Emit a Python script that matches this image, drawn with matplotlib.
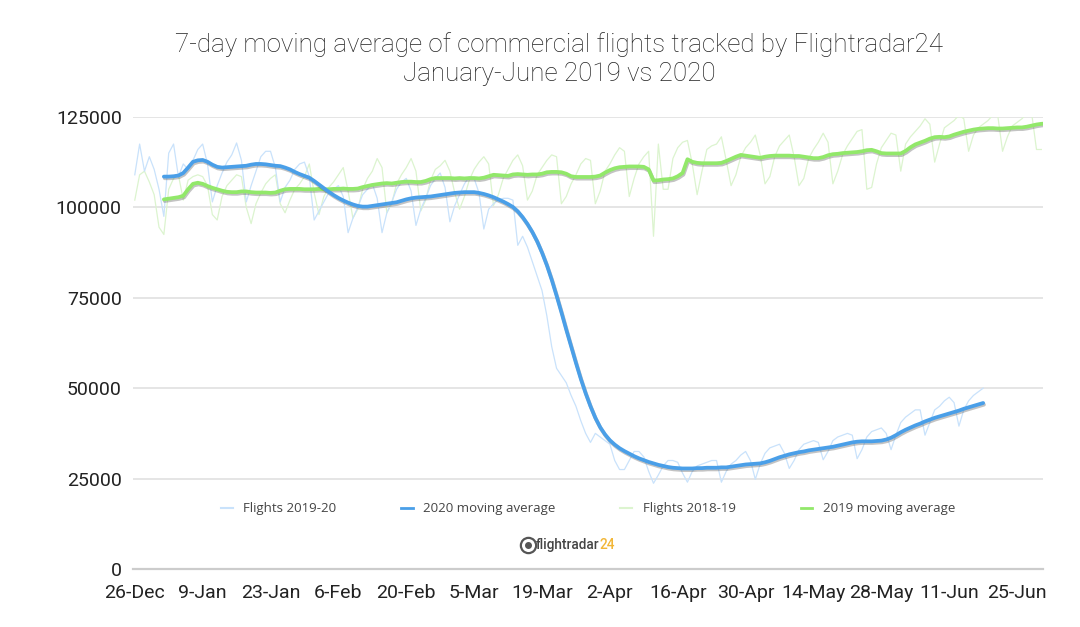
import numpy as np
import matplotlib
matplotlib.use("Agg")
import matplotlib.pyplot as plt
import matplotlib.patheffects as pe
from matplotlib.lines import Line2D

# daily values in thousands of flights, day 0 = 26-Dec
flights_2019_20 = [
    109.0, 117.5, 110.0, 114.0, 110.5, 105.0, 97.5, 115.0, 117.5, 108.5,
    112.0, 110.5, 113.0, 116.0, 117.5, 112.0, 101.5, 106.0, 109.5, 112.5,
    114.5, 117.8, 113.0, 101.5, 106.0, 110.0, 114.0, 115.5, 115.5, 111.0,
    101.5, 105.5, 107.5, 110.5, 112.0, 112.5, 108.5, 96.5, 99.0, 101.5,
    104.0, 105.0, 106.0, 103.0, 93.0, 97.0, 100.0, 103.5, 105.0, 106.5,
    102.5, 93.0, 98.5, 101.5, 105.0, 107.0, 108.0, 104.5, 95.0, 99.5,
    102.5, 106.0, 108.0, 109.5, 105.5, 96.0, 100.5, 103.5, 106.5, 108.5,
    108.0, 104.0, 94.0, 99.5, 101.0, 102.0, 102.5, 102.5, 102.0, 89.5,
    92.0, 89.0, 85.0, 81.0, 77.0, 70.0, 61.5, 55.5, 53.5, 51.5,
    48.0, 45.0, 41.0, 37.5, 35.0, 37.5, 36.5, 35.5, 34.5, 30.0,
    27.5, 27.5, 30.0, 32.5, 32.5, 31.0, 27.0, 23.7, 26.0, 28.5,
    30.0, 30.0, 29.5, 26.5, 24.0, 27.0, 28.5, 29.0, 29.5, 30.0,
    30.0, 24.0, 27.0, 29.0, 30.0, 31.5, 32.5, 30.0, 24.8, 29.0,
    32.0, 33.5, 34.0, 34.5, 32.0, 27.8, 30.0, 33.0, 34.5, 35.0,
    35.5, 35.0, 30.2, 32.5, 35.5, 36.5, 37.0, 37.5, 37.0, 30.5,
    33.0, 36.5, 38.0, 38.5, 39.0, 37.5, 33.0, 37.0, 40.5, 42.0,
    43.0, 44.0, 44.0, 37.0, 40.5, 44.0, 45.0, 46.5, 47.5, 46.0,
    39.5, 44.0, 46.5, 48.0, 49.0, 50.0,
]

# 7-day average, starts on day 6
ma_2020 = [
    108.5, 108.5, 108.6, 108.8, 109.5, 111.0, 112.6, 113.0, 113.1, 112.6,
    111.8, 111.2, 111.0, 111.1, 111.2, 111.3, 111.4, 111.5, 111.8, 112.0,
    112.0, 111.9, 111.7, 111.5, 111.4, 111.0, 110.5, 109.8, 109.2, 108.7,
    108.2, 107.3, 106.3, 105.3, 104.3, 103.4, 102.6, 101.9, 101.3, 100.8,
    100.4, 100.2, 100.2, 100.4, 100.6, 100.8, 101.0, 101.2, 101.4, 101.8,
    102.2, 102.5, 102.7, 102.8, 102.9, 103.0, 103.2, 103.4, 103.6, 103.8,
    104.0, 104.1, 104.2, 104.2, 104.2, 104.0, 103.7, 103.3, 102.8, 102.2,
    101.6, 100.9, 100.1, 98.9, 97.3, 95.4, 93.2, 90.6, 87.5, 84.0,
    80.0, 75.6, 71.0, 66.2, 61.6, 57.0, 52.6, 48.6, 45.0, 41.8,
    39.2, 37.2, 35.6, 34.4, 33.4, 32.6, 31.9, 31.2, 30.6, 30.1,
    29.6, 29.2, 28.8, 28.5, 28.2, 28.0, 27.9, 27.8, 27.8, 27.8,
    27.9, 27.9, 28.0, 28.0, 28.0, 28.1, 28.1, 28.3, 28.5, 28.7,
    28.9, 29.0, 29.1, 29.2, 29.5, 29.9, 30.4, 30.9, 31.3, 31.7,
    32.0, 32.3, 32.5, 32.8, 33.0, 33.2, 33.4, 33.6, 33.8, 34.1,
    34.4, 34.7, 35.0, 35.2, 35.3, 35.3, 35.3, 35.4, 35.5, 35.8,
    36.3, 37.0, 37.8, 38.5, 39.1, 39.7, 40.2, 40.8, 41.3, 41.8,
    42.2, 42.6, 43.0, 43.4, 43.8, 44.3, 44.7, 45.1, 45.5, 45.9,
]

flights_2018_19 = [
    102.0, 109.0, 110.0, 107.0, 103.5, 94.5, 92.5, 105.0, 108.0, 109.0,
    102.0, 107.5, 108.5, 109.0, 108.5, 106.0, 98.0, 96.5, 103.0, 106.0,
    107.5, 109.0, 108.5, 100.0, 95.5, 101.0, 104.0, 106.5, 108.0, 109.0,
    101.0, 98.5, 102.0, 105.0, 106.5, 108.5, 112.0, 104.0, 98.0, 103.0,
    105.5, 107.0, 109.0, 111.0, 104.5, 97.0, 99.5, 105.0, 108.0, 110.0,
    113.5, 111.0, 98.5, 101.0, 106.5, 109.0, 111.0, 113.5, 110.0, 99.0,
    102.0, 107.5, 110.5, 111.5, 113.0, 110.0, 104.0, 99.5, 103.0, 107.5,
    110.5, 112.5, 114.0, 112.0, 100.5, 103.5, 108.0, 110.5, 113.0, 114.5,
    111.5, 102.0, 104.5, 109.0, 111.0, 113.0, 114.5, 114.0, 101.0, 103.0,
    106.5, 109.0, 112.0, 113.5, 113.0, 101.0, 104.5, 110.0, 112.0, 114.5,
    116.5, 115.5, 103.0, 108.0, 112.0, 114.0, 115.5, 92.0, 117.5, 105.0,
    105.0, 113.5, 116.5, 118.0, 118.5, 112.0, 103.5, 110.0, 116.0, 117.0,
    117.5, 119.5, 113.0, 106.0, 109.0, 114.0, 116.5, 118.0, 120.0, 114.5,
    106.5, 108.5, 114.0, 117.0, 118.5, 120.0, 114.0, 106.0, 108.0, 113.5,
    116.0, 118.0, 120.5, 118.0, 106.5, 110.0, 114.5, 117.0, 119.0, 121.0,
    121.5, 105.0, 105.5, 112.0, 116.5, 118.5, 120.5, 120.0, 110.0, 117.5,
    119.5, 121.0, 122.5, 124.5, 123.0, 112.5, 117.5, 122.0, 123.0, 124.0,
    125.5, 124.5, 115.5, 120.0, 122.0, 123.0, 124.0, 125.5, 125.5, 115.5,
    119.5, 122.5, 123.5, 124.5, 126.0, 126.0, 116.0, 116.0,
]

ma_2019 = [
    102.2, 102.4, 102.6, 102.8, 103.2, 105.0, 106.5, 106.8, 106.5, 105.9,
    105.4, 105.0, 104.6, 104.3, 104.2, 104.2, 104.4, 104.4, 104.2, 104.1,
    104.1, 104.1, 104.0, 104.1, 104.6, 105.0, 105.1, 105.1, 105.1, 105.0,
    105.0, 105.0, 105.1, 105.0, 105.0, 105.1, 105.1, 105.2, 105.1, 105.1,
    105.2, 105.6, 105.9, 106.2, 106.4, 106.6, 106.7, 106.6, 106.8, 107.0,
    107.1, 107.1, 107.0, 107.0, 107.3, 107.8, 108.1, 108.1, 108.1, 108.1,
    108.0, 108.1, 108.0, 108.1, 108.1, 108.0, 108.2, 108.6, 109.0, 108.9,
    108.8, 108.7, 109.1, 109.2, 109.1, 109.0, 109.1, 109.1, 109.3, 109.7,
    109.8, 109.8, 109.7, 109.3, 108.6, 108.4, 108.4, 108.4, 108.4, 108.5,
    108.8, 109.6, 110.3, 110.8, 111.1, 111.2, 111.3, 111.3, 111.3, 111.2,
    110.5, 107.4, 107.5, 107.7, 107.8, 108.0, 108.6, 109.5, 113.3, 112.6,
    112.3, 112.2, 112.2, 112.2, 112.2, 112.3, 112.8, 113.4, 114.0, 114.5,
    114.3, 114.1, 113.9, 113.7, 114.0, 114.2, 114.3, 114.3, 114.3, 114.3,
    114.2, 114.2, 114.0, 113.8, 113.6, 113.6, 113.9, 114.4, 114.7, 114.8,
    115.0, 115.1, 115.2, 115.3, 115.5, 115.8, 115.9, 115.5, 115.0, 114.9,
    114.9, 114.9, 114.9, 115.6, 116.6, 117.4, 117.9, 118.4, 119.0, 119.4,
    119.5, 119.4, 119.6, 120.1, 120.5, 120.9, 121.2, 121.5, 121.7, 121.8,
    121.9, 121.9, 121.8, 121.8, 121.9, 122.0, 122.1, 122.1, 122.3, 122.6,
    122.9, 123.1, 123.2, 123.2,
]

tick_labels = ["26-Dec", "9-Jan", "23-Jan", "6-Feb", "20-Feb", "5-Mar", "19-Mar",
               "2-Apr", "16-Apr", "30-Apr", "14-May", "28-May", "11-Jun", "25-Jun"]
ma_start = 6

blue_light = "#c9e2fb"
blue = "#4a9fe8"
green_light = "#dcf4cf"
green = "#92e86a"

plt.rcParams["font.family"] = ["Roboto", "DejaVu Sans"]

fig = plt.figure(figsize=(10.8, 6.27), dpi=100)
ax = fig.add_axes([0.123, 0.0925, 0.843, 0.721])

shadow = [pe.SimpleLineShadow(offset=(0.6, -1.2), shadow_color="#555555", alpha=0.35),
          pe.Normal()]

x_b = np.arange(len(flights_2019_20))
x_g = np.arange(len(flights_2018_19))
ax.plot(x_g, np.array(flights_2018_19) * 1000, color=green_light, lw=0.9, zorder=2)
ax.plot(x_b, np.array(flights_2019_20) * 1000, color=blue_light, lw=0.9, zorder=2)
ax.plot(np.arange(len(ma_2019)) + ma_start, np.array(ma_2019) * 1000, color=green,
        lw=2.7, zorder=3, path_effects=shadow, solid_capstyle="round")
ax.plot(np.arange(len(ma_2020)) + ma_start, np.array(ma_2020) * 1000, color=blue,
        lw=2.7, zorder=4, path_effects=shadow, solid_capstyle="round")

ax.set_xlim(-0.4, 187.4)
ax.set_ylim(0, 125000)
ax.set_yticks(np.arange(0, 125001, 25000))
ax.set_yticklabels([str(v) for v in range(0, 125001, 25000)])
ax.set_xticks(np.arange(0, 14 * len(tick_labels), 14))
ax.set_xticklabels(tick_labels)
ax.tick_params(axis="both", length=0, labelsize=14, labelcolor="#222222")
ax.tick_params(axis="y", pad=8)
ax.tick_params(axis="x", pad=11)
ax.grid(axis="y", color="#e3e3e3", lw=1.3)
ax.set_axisbelow(True)
for s in ["left", "right", "top"]:
    ax.spines[s].set_visible(False)
ax.spines["bottom"].set_color("#cccccc")
ax.spines["bottom"].set_linewidth(1.6)

handles = [Line2D([], [], color=blue_light, lw=1.5),
           Line2D([], [], color=blue, lw=2.0),
           Line2D([], [], color=green_light, lw=1.5),
           Line2D([], [], color=green, lw=2.0)]
labels = ["Flights 2019-20", "2020 moving average", "Flights 2018-19", "2019 moving average"]
leg = ax.legend(handles, labels, loc="center", bbox_to_anchor=(0.5, 0.133), ncol=4,
                frameon=False, handlelength=0.9, handletextpad=0.8, columnspacing=4.9,
                prop={"family": ["Open Sans", "DejaVu Sans"], "size": 9.5})
for t in leg.get_texts():
    t.set_color("#444444")

# flightradar24 logo
logo_y = 0.053
ax.plot([0.434], [logo_y], marker="o", ms=11, mfc="none", mec="#555555", mew=1.6,
        transform=ax.transAxes, clip_on=False)
ax.plot([0.434], [logo_y], marker="o", ms=4, mfc="#555555", mec="#555555",
        transform=ax.transAxes, clip_on=False)
t1 = ax.text(0.4425, logo_y, "flightradar", transform=ax.transAxes, ha="left",
             va="center", fontsize=9.8, color="#444444", fontweight="medium")
fig.canvas.draw()
bb = t1.get_window_extent().transformed(ax.transAxes.inverted())
ax.text(bb.x1, logo_y, "24", transform=ax.transAxes, ha="left", va="center",
        fontsize=9.8, color="#f2b636", fontweight="medium")

fig.text(0.518, 0.906, "7-day moving average of commercial flights tracked by Flightradar24\n"
         "January-June 2019 vs 2020", ha="center", va="center", fontsize=18.7,
         fontweight="light", color="#222222", linespacing=1.3)

fig.savefig("out.png", dpi=100, facecolor="white")
